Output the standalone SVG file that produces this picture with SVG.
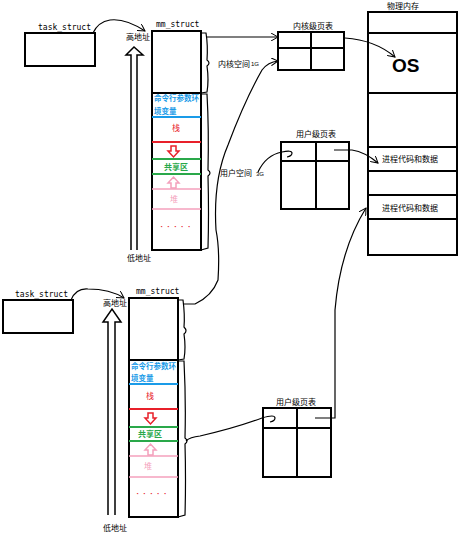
<svg xmlns="http://www.w3.org/2000/svg" width="474" height="540" viewBox="0 0 474 540">
<defs>
<marker id="ah" markerWidth="8" markerHeight="8" refX="7" refY="4" orient="auto" markerUnits="userSpaceOnUse"><path d="M0,0 L7,4 L0,8" fill="none" stroke="#000" stroke-width="1"/></marker>
</defs>
<style>
.box{fill:#fff;stroke:#000;stroke-width:2}
.ln{fill:none;stroke:#000;stroke-width:1.2}
.t{font-family:"Liberation Sans","Noto Sans CJK SC",sans-serif;font-size:8px;fill:#000}
.s{font-size:7.5px}
.m{font-family:"DejaVu Sans Mono",monospace;font-size:8px;fill:#000}
.blue{fill:#1a9be8;font-weight:bold}
.red{fill:#e8202a}
.green{fill:#2aa84a;font-weight:bold}
.pink{fill:#f4a0bc}
.c{text-anchor:middle}
.dots{font-weight:bold;letter-spacing:1px}
</style>
<rect width="474" height="540" fill="#fff"/>

<g id="task1">
<rect class="box" x="25" y="33" width="70" height="33"/>
<text class="m" x="38" y="30">task_struct</text>
</g>
<g id="addr1">
<text class="t" x="126" y="40">高地址</text>
<path d="M131,250 V55 H126 L134,47 L143,55 H137 V250" fill="none" stroke="#000" stroke-width="1.5"/>
<text class="t" x="127" y="261">低地址</text>
</g>
<g id="mm1">
<text class="m" x="156" y="27">mm_struct</text>
<rect class="box" x="152" y="31" width="49" height="219"/>
<line x1="152" y1="93" x2="201" y2="93" stroke="#000" stroke-width="2"/>
<text class="t s blue" x="154" y="101">命令行参数环</text>
<text class="t s blue" x="154" y="114">境变量</text>
<line x1="152" y1="117" x2="201" y2="117" stroke="#1a9be8" stroke-width="2"/>
<text class="t red c" x="176" y="131">栈</text>
<line x1="152" y1="142" x2="201" y2="142" stroke="#e8202a" stroke-width="2"/>
<path d="M171,146 H176 V151 H179 L173.5,157 L168,151 H171 Z" fill="none" stroke="#e8202a" stroke-width="1.5"/>
<line x1="152" y1="159" x2="201" y2="159" stroke="#2aa84a" stroke-width="2"/>
<text class="t green c" x="176" y="170">共享区</text>
<line x1="152" y1="174" x2="201" y2="174" stroke="#2aa84a" stroke-width="2"/>
<path d="M171,188 H176 V183 H179 L173.5,177 L168,183 H171 Z" fill="none" stroke="#f4a0bc" stroke-width="1.5"/>
<line x1="152" y1="189" x2="201" y2="189" stroke="#f4a0bc" stroke-width="1.5"/>
<text class="t pink c" x="174" y="202">堆</text>
<line x1="152" y1="209" x2="201" y2="209" stroke="#f4a0bc" stroke-width="1.5"/>
<text class="t red c dots" x="176" y="229">· · · · ·</text>
<path class="ln" d="M201,33 H206 Q208,45 207,60 Q211,63 207,66 Q209,80 207,92 L201,93"/>
<path class="ln" d="M201,94 H207 Q209,130 208,170 Q212,173 208,176 Q209,215 208,248 L201,250"/>
<text class="t" x="218" y="67">内核空间</text><text class="t" x="251" y="66" style="font-size:6px">1G</text>
<text class="t" x="220" y="176">用户空间</text><text class="t" x="256" y="176" style="font-size:6px">3G</text>
</g>

<g id="kpt">
<text class="t" x="293" y="29">内核级页表</text>
<rect class="box" x="278" y="32" width="66" height="38"/>
<line x1="278" y1="48" x2="344" y2="48" stroke="#000" stroke-width="2"/>
<line x1="311" y1="32" x2="311" y2="70" stroke="#000" stroke-width="2"/>
</g>

<g id="upt1">
<text class="t" x="296" y="137">用户级页表</text>
<rect class="box" x="281" y="142" width="68" height="67"/>
<line x1="281" y1="161" x2="349" y2="161" stroke="#000" stroke-width="2"/>
<line x1="316" y1="142" x2="316" y2="209" stroke="#000" stroke-width="2"/>
</g>

<g id="phys">
<text class="t" x="387" y="9">物理内存</text>
<rect class="box" x="368" y="12" width="89" height="243"/>
<line x1="368" y1="33" x2="457" y2="33" stroke="#000" stroke-width="2"/>
<line x1="368" y1="93" x2="457" y2="93" stroke="#000" stroke-width="2"/>
<line x1="368" y1="147" x2="457" y2="147" stroke="#000" stroke-width="2"/>
<line x1="368" y1="171" x2="457" y2="171" stroke="#000" stroke-width="2"/>
<line x1="368" y1="195" x2="457" y2="195" stroke="#000" stroke-width="2"/>
<line x1="368" y1="219" x2="457" y2="219" stroke="#000" stroke-width="2"/>
<text x="392" y="72" style="font-family:'Liberation Sans',sans-serif;font-size:19px;font-weight:bold;fill:#000">OS</text>
<text class="t" x="382" y="162">进程代码和数据</text>
<text class="t" x="382" y="211">进程代码和数据</text>
</g>

<g id="task2">
<rect class="box" x="3" y="300" width="70" height="33"/>
<text class="m" x="15" y="297">task_struct</text>
</g>
<g id="addr2">
<text class="t" x="103" y="306">高地址</text>
<path d="M108,515 V322 H103 L112,309 L121,322 H115 V515" fill="none" stroke="#000" stroke-width="1.5"/>
<text class="t" x="103" y="531">低地址</text>
</g>
<g id="mm2">
<text class="m" x="136" y="294">mm_struct</text>
<rect class="box" x="129" y="298" width="49" height="219"/>
<line x1="129" y1="360" x2="178" y2="360" stroke="#000" stroke-width="2"/>
<text class="t s blue" x="131" y="369">命令行参数环</text>
<text class="t s blue" x="131" y="381">境变量</text>
<line x1="129" y1="384" x2="178" y2="384" stroke="#1a9be8" stroke-width="2"/>
<text class="t red c" x="150" y="399">栈</text>
<line x1="129" y1="409" x2="178" y2="409" stroke="#e8202a" stroke-width="2"/>
<path d="M148,413 H153 V418 H156 L150.5,424 L145,418 H148 Z" fill="none" stroke="#e8202a" stroke-width="1.5"/>
<line x1="129" y1="427" x2="178" y2="427" stroke="#2aa84a" stroke-width="2"/>
<text class="t green c" x="150" y="437">共享区</text>
<line x1="129" y1="441" x2="178" y2="441" stroke="#2aa84a" stroke-width="2"/>
<path d="M148,455 H153 V450 H156 L150.5,444 L145,450 H148 Z" fill="none" stroke="#f4a0bc" stroke-width="1.5"/>
<line x1="129" y1="456" x2="178" y2="456" stroke="#f4a0bc" stroke-width="1.5"/>
<text class="t pink c" x="148" y="469">堆</text>
<line x1="129" y1="477" x2="178" y2="477" stroke="#f4a0bc" stroke-width="1.5"/>
<text class="t red c dots" x="152" y="496">· · · · ·</text>
<path class="ln" d="M178,300 H183 Q185,315 184,327 Q188,331 184,334 Q186,348 184,359 L178,360"/>
<path class="ln" d="M178,361 H184 Q186,400 185,438 Q189,441 185,444 Q186,480 185,515 L178,517"/>
</g>

<g id="upt2">
<text class="t" x="276" y="405">用户级页表</text>
<rect class="box" x="263" y="408" width="68" height="69"/>
<line x1="263" y1="428" x2="331" y2="428" stroke="#000" stroke-width="2"/>
<line x1="297" y1="408" x2="297" y2="477" stroke="#000" stroke-width="2"/>
</g>

<g id="connectors" fill="none" stroke="#000" stroke-width="1.2">
<path d="M93,33 Q98,22 110,20 Q125,18 145,31" marker-end="url(#ah)"/>
<path d="M207,37 H278" marker-end="url(#ah)"/>
<path d="M345,38 Q375,40 395,57" marker-end="url(#ah)"/>
<path d="M258,172 Q266,155 282,152 Q292,150 292,153 Q292,156 287,157"/>
<path d="M334,150 H352 Q365,152 378,163" marker-end="url(#ah)"/>
<path d="M71,300 Q76,288 88,289 Q110,289 124,298" marker-end="url(#ah)"/>
<path d="M184,304 H195 Q212,296 218,280 Q220,250 216,230 Q213,180 228,145 Q245,100 262,70 Q268,62 278,61" marker-end="url(#ah)"/>
<path d="M186,441 Q190,437 200,436 Q235,428 262,418 Q275,414 275,418 Q275,421 270,422"/>
<path d="M315,418 H335 V310 Q340,250 366,208" marker-end="url(#ah)"/>
</g>
</svg>
